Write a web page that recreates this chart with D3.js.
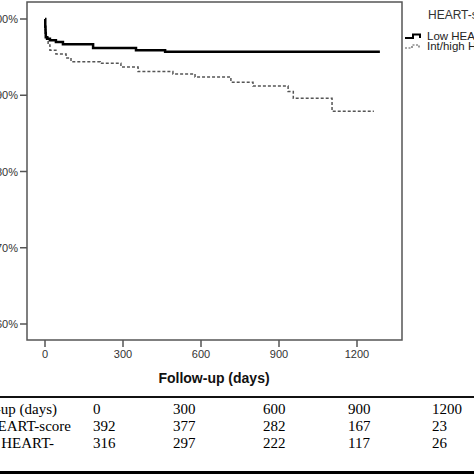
<!DOCTYPE html>
<html>
<head>
<meta charset="utf-8">
<script src="https://cdn.jsdelivr.net/npm/d3@7"></script>
<style>
    body { margin: 0; background: #fff; }
    svg { display: block; }
</style>
</head>
<body>
<div id="km-plot"></div>
<script>
// Kaplan-Meier steps: [days, cumulative survival]
var lowSteps = [[0, 1.0], [1, 0.99], [2, 0.982], [3, 0.976], [8, 0.974], [19, 0.972], [42, 0.970],
    [69, 0.967], [185, 0.962], [350, 0.959], [462, 0.957]];
var lowEnd = 1288;

var highSteps = [[0, 1.0], [1, 0.986], [3, 0.976], [12, 0.966], [19, 0.959], [42, 0.954], [81, 0.949],
    [100, 0.944], [212, 0.942], [292, 0.937], [358, 0.931], [492, 0.928], [577, 0.924], [715, 0.917],
    [800, 0.912], [935, 0.905], [955, 0.896], [1104, 0.879]];
var highEnd = 1265;

var xTicks = [0, 300, 600, 900, 1200];
var yTicks = [0.6, 0.7, 0.8, 0.9, 1.0];

var legendTitle = "HEART-score";
var legendLabels = ["Low HEART-score", "Int/high HEART-score"];
var xTitle = "Follow-up (days)";

// number at risk table
var riskLabels = ["Follow-up (days)", "Low HEART-score", "Int/high HEART-"];
var riskDays = [0, 300, 600, 900, 1200];
var riskLow = [392, 377, 282, 167, 23];
var riskHigh = [316, 297, 222, 117, 26];

var W = 474, H = 474;

var svg = d3.select("#km-plot")
    .append("svg")
    .attr("width", W)
    .attr("height", H);

var x = d3.scaleLinear().domain([0, 1200]).range([45, 357]);
var y = d3.scaleLinear().domain([0.6, 1.0]).range([324, 19]);

var frame = { left: 27, right: 402, top: 2, bottom: 340 };

// plot box
svg.append("rect")
    .attr("x", frame.left)
    .attr("y", frame.top)
    .attr("width", frame.right - frame.left)
    .attr("height", frame.bottom - frame.top)
    .attr("fill", "none")
    .attr("stroke", "#555")
    .attr("stroke-width", 1.5);

// y axis ticks
var yAxis = svg.append("g").attr("class", "axis--y");
yAxis.selectAll("line").data(yTicks).enter().append("line")
    .attr("x1", 20).attr("x2", frame.left)
    .attr("y1", function(d) { return y(d); })
    .attr("y2", function(d) { return y(d); })
    .attr("stroke", "#555").attr("stroke-width", 1.5);
yAxis.selectAll("text").data(yTicks).enter().append("text")
    .attr("x", 18)
    .attr("y", function(d) { return y(d) + 4; })
    .attr("text-anchor", "end")
    .attr("font-family", "Liberation Sans, Arial, sans-serif")
    .attr("font-size", 11)
    .attr("fill", "#333")
    .text(function(d) { return Math.round(d * 100) + "%"; });

// x axis ticks
var xAxis = svg.append("g").attr("class", "axis--x");
xAxis.selectAll("line").data(xTicks).enter().append("line")
    .attr("x1", function(d) { return x(d); })
    .attr("x2", function(d) { return x(d); })
    .attr("y1", frame.bottom).attr("y2", frame.bottom + 7)
    .attr("stroke", "#555").attr("stroke-width", 1.5);
xAxis.selectAll("text").data(xTicks).enter().append("text")
    .attr("x", function(d) { return x(d); })
    .attr("y", 358)
    .attr("text-anchor", "middle")
    .attr("font-family", "Liberation Sans, Arial, sans-serif")
    .attr("font-size", 11)
    .attr("fill", "#333")
    .text(function(d) { return d; });

svg.append("text")
    .attr("x", 214)
    .attr("y", 383)
    .attr("text-anchor", "middle")
    .attr("font-family", "Liberation Sans, Arial, sans-serif")
    .attr("font-weight", "bold")
    .attr("font-size", 14)
    .attr("fill", "#111")
    .text(xTitle);

// step curves
function stepData(steps, end) {
    var pts = steps.slice();
    pts.push([end, steps[steps.length - 1][1]]);
    return pts;
}

var line = d3.line()
    .x(function(d) { return x(d[0]); })
    .y(function(d) { return y(d[1]); })
    .curve(d3.curveStepAfter);

svg.append("path")
    .datum(stepData(highSteps, highEnd))
    .attr("d", line)
    .attr("fill", "none")
    .attr("stroke", "#555")
    .attr("stroke-width", 1.5)
    .attr("stroke-dasharray", "3,2");

svg.append("path")
    .datum(stepData(lowSteps, lowEnd))
    .attr("d", line)
    .attr("fill", "none")
    .attr("stroke", "#000")
    .attr("stroke-width", 2.5);

// legend (text in the source is a bit wide, so stretch it)
svg.append("text")
    .attr("x", 428)
    .attr("y", 19)
    .attr("font-family", "Liberation Sans, Arial, sans-serif")
    .attr("font-size", 12)
    .attr("fill", "#333")
    .text(legendTitle);

var legend = svg.append("g").attr("class", "legend");
legend.append("path")
    .attr("d", "M405,38H413V34.5H420V38")
    .attr("fill", "none").attr("stroke", "#000").attr("stroke-width", 2);
legend.append("path")
    .attr("d", "M405,48H412V45H419V48")
    .attr("fill", "none").attr("stroke", "#555").attr("stroke-width", 1.2)
    .attr("stroke-dasharray", "2,1.5");
legend.selectAll("text").data(legendLabels).enter().append("text")
    .attr("transform", function(d, i) { return "translate(427," + (40 + i * 10) + ") scale(1.15,1)"; })
    .attr("font-family", "Liberation Sans, Arial, sans-serif")
    .attr("font-size", 10)
    .attr("fill", "#222")
    .text(function(d) { return d; });

// number-at-risk table
svg.append("line")
    .attr("x1", 0).attr("x2", W)
    .attr("y1", 397).attr("y2", 397)
    .attr("stroke", "#111").attr("stroke-width", 2);
svg.append("line")
    .attr("x1", 0).attr("x2", W)
    .attr("y1", 472.5).attr("y2", 472.5)
    .attr("stroke", "#000").attr("stroke-width", 3);

var colX = [93, 173, 263, 348, 432];
var labelEnd = [57, 71, 54];
var rows = [riskDays, riskLow, riskHigh];
var rowY = [414, 431, 448];

var table = svg.append("g")
    .attr("font-family", "Liberation Serif, Times New Roman, serif")
    .attr("font-size", 15)
    .attr("fill", "#000");

table.selectAll(".row-label").data(riskLabels).enter().append("text")
    .attr("class", "row-label")
    .attr("x", function(d, i) { return labelEnd[i]; })
    .attr("y", function(d, i) { return rowY[i]; })
    .attr("text-anchor", "end")
    .text(function(d) { return d; });

rows.forEach(function(r, i) {
    table.selectAll(".cell-" + i).data(r).enter().append("text")
        .attr("class", "cell-" + i)
        .attr("x", function(d, j) { return colX[j]; })
        .attr("y", rowY[i])
        .text(function(d) { return d; });
});
</script>
</body>
</html>
